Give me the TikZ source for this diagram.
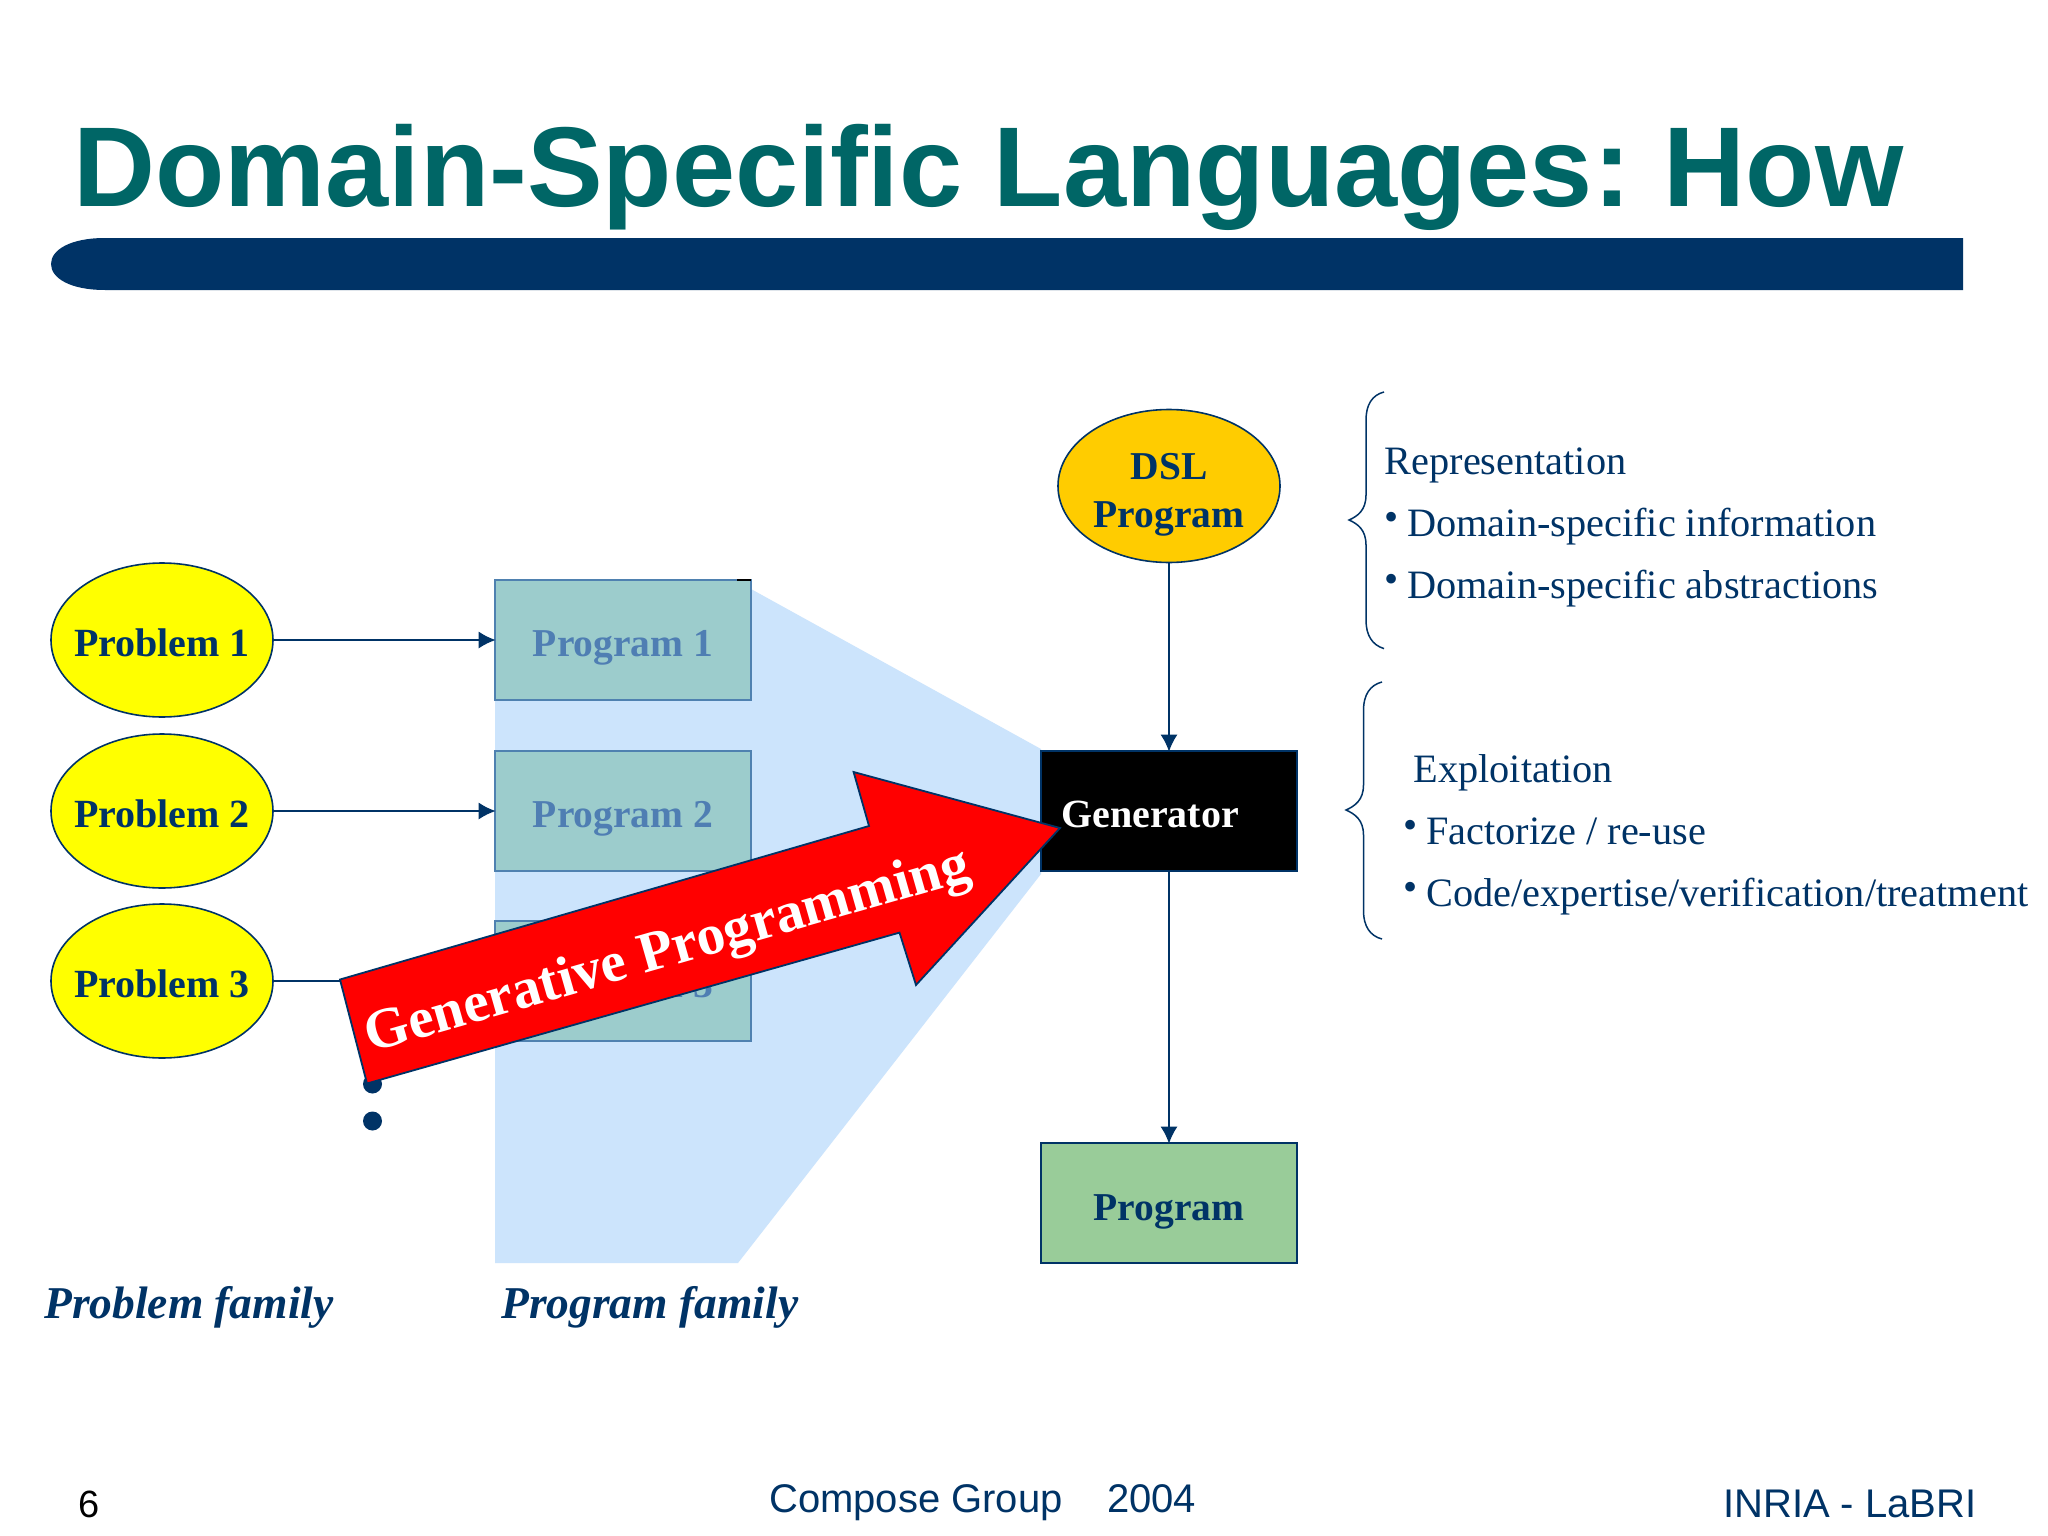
\documentclass[tikz,border=0pt]{standalone}
\usepackage{fontspec}
\setmainfont{Liberation Serif}
\newfontfamily\headfont{Liberation Sans}
\usetikzlibrary{arrows.meta,shapes.geometric}
\definecolor{navy}{HTML}{003366}
\definecolor{headgreen}{HTML}{006666}
\definecolor{fanblue}{HTML}{CCE4FC}
\definecolor{progteal}{HTML}{9CCCCC}
\definecolor{progtext}{HTML}{4F7EB3}
\definecolor{progedge}{HTML}{4F81B0}
\definecolor{resultgreen}{HTML}{99CC99}
\definecolor{dslgold}{HTML}{FFCC00}
\definecolor{probyellow}{HTML}{FFFF00}
\tikzset{
    problem/.style={ellipse,draw=navy,line width=1.6pt,fill=probyellow,minimum width=222pt,minimum height=154pt,inner xsep=-20pt,inner ysep=0pt,text height=33pt,text depth=0pt,text=navy,font=\fontsize{40}{48}\selectfont\bfseries},
    member/.style={rectangle,draw=progedge,line width=1.6pt,fill=progteal,minimum width=256pt,minimum height=120pt,inner sep=0pt,text height=32pt,text depth=0pt,text=progtext,font=\fontsize{39.5}{48}\selectfont\bfseries},
    flow/.style={draw=navy,line width=1.8pt,shorten >=-1.5pt,-{Latex[length=17pt,width=17pt]}},
    brace/.style={draw=navy,line width=1.5pt},
    note/.style={anchor=base west,inner sep=0pt,text=navy,font=\fontsize{40.3}{48}\selectfont},
    family/.style={anchor=base west,inner sep=0pt,text=navy,font=\fontsize{45.5}{54}\selectfont\bfseries\itshape},
    footer/.style={anchor=base west,inner sep=0pt,font=\fontsize{40}{48}\selectfont\headfont}
}
\newcommand{\notedot}{\raisebox{6pt}{\textbullet}\hspace{9pt}}
\begin{document}
\begin{tikzpicture}[x=1pt,y=-1pt]
    \useasboundingbox (0,0) rectangle (2048,1536);
    \fill[white] (0,0) rectangle (2048,1536);

    % heading
    \node[anchor=base west,inner sep=0pt,text=headgreen,font=\fontsize{113.5}{130}\selectfont\headfont\bfseries] (heading) at (73,206) {Domain-Specific Languages: \kern-9pt How};
    \fill[navy] (105,238) -- (1963,238) -- (1963,290) -- (105,290) .. controls (70,290) and (51,278) .. (51,264) .. controls (51,250) and (70,238) .. (105,238);

    % fan behind the programs
    \fill[fanblue] (495,580) -- (751,589) -- (1041,749) -- (1041,874) -- (738,1263) -- (495,1263) -- cycle;

    \node[problem] (problem1) at (162,640) {Problem 1};
    \node[problem] (problem2) at (162,811) {Problem 2};
    \node[problem] (problem3) at (162,981) {Problem 3};

    \node[member] (program1) at (623,640) {Program 1};
    \node[member] (program2) at (623,811) {Program 2};
    \node[member] (program3) at (623,981) {Program 3};
    \draw[black,line width=1.6pt] (737,580) -- (751,580);

    \draw[flow] (problem1) -- (program1);
    \draw[flow] (problem2) -- (program2);
    \draw[flow] (problem3) -- (program3);

    \node[circle,fill=navy,minimum size=19pt,inner sep=0pt] (dot1) at (372.5,1084) {};
    \node[circle,fill=navy,minimum size=19pt,inner sep=0pt] (dot2) at (372.5,1121) {};

    \node[ellipse,draw=navy,line width=1.6pt,fill=dslgold,minimum width=222pt,minimum height=153pt,inner sep=0pt,text=navy,align=center,font=\fontsize{39.5}{48}\selectfont\bfseries] (dsl) at (1169,486) {\rule{0pt}{43pt}DSL\\Program};
    \node[rectangle,draw=navy,line width=1.6pt,fill=black,minimum width=256pt,minimum height=120pt] (generator) at (1169,811) {};
    \node[rectangle,draw=navy,line width=1.6pt,fill=resultgreen,minimum width=256pt,minimum height=120pt,inner sep=0pt,text height=34pt,text depth=0pt,text=navy,font=\fontsize{39.5}{48}\selectfont\bfseries] (result) at (1169,1203) {Program};

    \draw[flow] (dsl) -- (generator);
    \draw[flow] (generator) -- (result);

    % big arrow over the family
    \draw[navy,line width=1.8pt,fill=red,line join=miter] (340,979.5) -- (869,826) -- (853.6,772) -- (1060,828) -- (916,985) -- (899.5,932.6) -- (367,1083.5) -- cycle;
    \node[white,rotate=16,inner sep=0pt,font=\fontsize{57.2}{64}\selectfont\bfseries] (generative) at (668,953) {Generative Programming};
    \node[white,inner sep=0pt,font=\fontsize{40}{48}\selectfont\bfseries] (genlabel) at (1150,814) {Generator};

    % braces
    \draw[brace] (1384,392) .. controls (1372,395) and (1366,405) .. (1366,420) -- (1366,495) .. controls (1366,510) and (1358,516) .. (1349,520) .. controls (1358,524) and (1366,530) .. (1366,545) -- (1366,620) .. controls (1366,635) and (1372,645) .. (1384,648.6);
    \draw[brace] (1382,682) .. controls (1370,685) and (1363.5,695) .. (1363.5,710) -- (1363.5,785) .. controls (1363.5,800) and (1355,806) .. (1346,810) .. controls (1355,814) and (1363.5,820) .. (1363.5,835) -- (1363.5,911) .. controls (1363.5,926) and (1370,936) .. (1382,939);

    \node[note] (repr) at (1384.5,474) {Representation};
    \node[note] (info) at (1384,536.5) {\notedot Domain-specific information};
    \node[note] (abstr) at (1384,598.5) {\notedot Domain-specific abstractions};
    \node[note] (exploit) at (1413.5,782) {Exploitation};
    \node[note] (factor) at (1403,844.5) {\notedot Factorize / re-use};
    \node[note] (code) at (1403,906) {\notedot Code/expertise/verification/treatment};

    \node[family] (problemfamily) at (44,1318) {Problem family};
    \node[family] (programfamily) at (501,1318) {Program family};

    \node[footer,font=\fontsize{38}{46}\selectfont\headfont] (pagenum) at (78,1517) {6};
    \node[footer,text=navy] (compose) at (769,1512) {Compose Group \hspace{33.5pt}2004};
    \node[footer,text=navy] (inria) at (1723,1517) {INRIA - LaBRI};
\end{tikzpicture}
\end{document}
